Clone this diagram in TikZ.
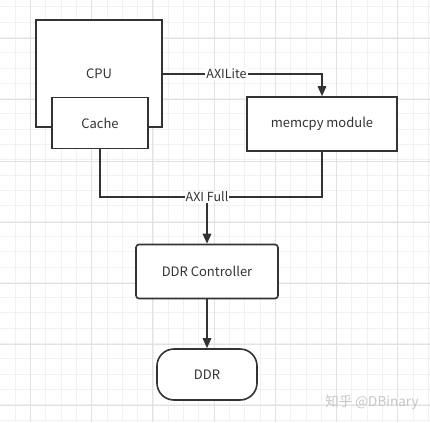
\documentclass[tikz,border=0pt]{standalone}
\usepackage{fontspec}
\setmainfont{Noto Sans CJK SC}
\usetikzlibrary{arrows.meta}
\definecolor{linegray}{HTML}{333333}
\definecolor{gridminor}{HTML}{F1F1F1}
\definecolor{gridmajor}{HTML}{E2E2E2}

\begin{document}
\begin{tikzpicture}[x=1pt, y=-1pt,
  box/.style={draw=linegray, line width=1.6pt, fill=white, text=linegray,
              font=\fontsize{13}{15}\selectfont, inner sep=0pt},
  link/.style={draw=linegray, line width=1.6pt},
  tag/.style={fill=white, inner sep=1pt, text=linegray,
              font=\fontsize{12.5}{14}\selectfont},
  >={Triangle[length=10pt, width=8.5pt]}]
\fill[white] (0, 0) rectangle (430, 422);
\useasboundingbox (0, 0) rectangle (430, 422);
\foreach \k in {0,...,28} {
  \draw[gridminor, line width=0.8pt] (15.2 + 15.3*\k, 0) -- ++(0, 422);
  \draw[gridminor, line width=0.8pt] (0, 6.8 + 15.3*\k) -- ++(430, 0);
}
\foreach \k in {0,...,6} {
  \draw[gridmajor, line width=1pt] (30.5 + 61.2*\k, 0) -- ++(0, 422);
  \draw[gridmajor, line width=1pt] (0, 38.6 + 61.2*\k) -- ++(430, 0);
}
\node[box, minimum width=126pt, minimum height=107pt] (cpu) at (99, 73.5) {CPU};
\node[box, minimum width=96pt, minimum height=51pt] (cache) at (100, 123) {Cache};
\node[box, minimum width=150pt, minimum height=54pt] (mem) at (322, 124) {memcpy module};
\node[box, minimum width=142pt, minimum height=54pt, rounded corners=3pt] (ddrc) at (207, 271.5) {DDR Controller};
\node[box, minimum width=100pt, minimum height=51pt, rounded corners=17pt] (ddr) at (207, 374.5) {DDR};
\draw[link, ->] (cpu.east |- 0, 74) -| node[tag, pos=0.2] {AXILite} (mem.north);
\coordinate (bus) at (ddrc.north |- 0, 197);
\draw[link] (cache.south) |- (bus) -| (mem.south);
\node[tag] (axifull) at (bus) {AXI Full};
\draw[link, ->] (axifull.south) -- (ddrc.north);
\draw[link, ->] (ddrc.south) -- (ddr.north);
\node[text=gray!45, font=\fontsize{13.5}{15}\selectfont] (mark) at (372, 402) {知乎 @DBinary};
\end{tikzpicture}
\end{document}
